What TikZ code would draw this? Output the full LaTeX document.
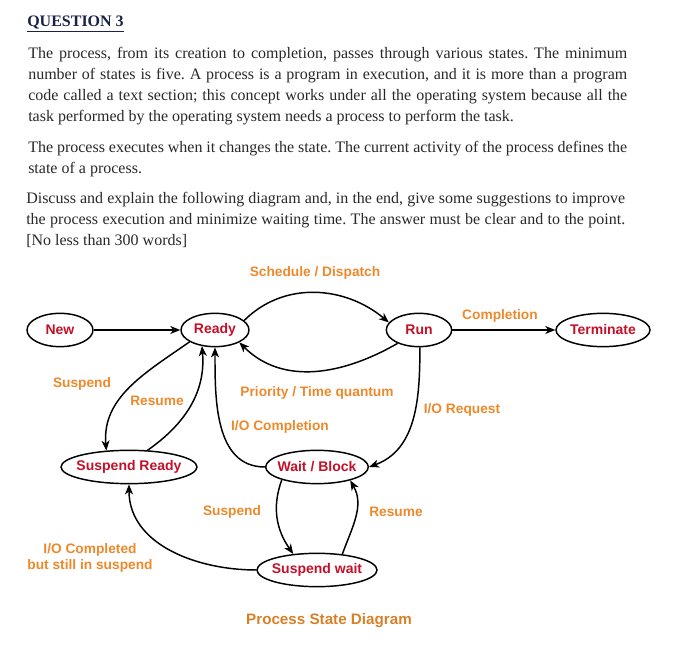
\documentclass[tikz,border=0pt]{standalone}
\usepackage{fontspec}
\setmainfont{Liberation Serif}
\setsansfont{Liberation Sans}
\usetikzlibrary{shapes.geometric,arrows.meta}
\definecolor{navyq}{RGB}{25,35,70}
\definecolor{bodytext}{RGB}{40,40,40}
\definecolor{lblorange}{RGB}{237,137,43}
\definecolor{titleorange}{RGB}{214,128,40}
\definecolor{statered}{RGB}{196,16,40}
\frenchspacing
\hyphenpenalty=10000
\exhyphenpenalty=10000

\begin{document}
\begin{tikzpicture}[x=0.75pt,y=-0.75pt,
  state/.style={ellipse,draw,line width=1.1pt,inner xsep=-12pt,inner ysep=0pt,minimum height=25pt,text=statered,font=\sffamily\bfseries\fontsize{10.5}{12}\selectfont},
  lbl/.style={text=lblorange,font=\sffamily\bfseries\fontsize{10.3}{12.5}\selectfont,align=center},
  flow/.style={-{Stealth[length=7.5pt,width=6pt,inset=2.2pt]},line width=1.1pt},
  para/.style={anchor=base west,inner sep=0pt,text width=449.25pt,align=justify,text=bodytext,font=\fontsize{12}{15.75}\selectfont}]

\useasboundingbox (0,0) rectangle (676,655);

\node[anchor=base west,inner sep=0pt,text=navyq,font=\bfseries\fontsize{12}{14}\selectfont] (qtitle) at (27,27) {\underline{QUESTION 3}};
\node[para] (parA) at (28,58.5) {The process, from its creation to completion, passes through various states. The minimum number of states is five. A process is a program in execution, and it is more than a program code called a text section; this concept works under all the operating system because all the task performed by the operating system needs a process to perform the task.};
\node[para] (parB) at (28,152.5) {The process executes when it changes the state. The current activity of the process defines the state of a process.};
\node[para] (parC) at (26,203.5) {Discuss and explain the following diagram and, in the end, give some suggestions to improve the process execution and minimize waiting time. The answer must be clear and to the point. {[}No less than 300 words]};

\node[state,minimum width=49.5pt] (new) at (60,330) {New};
\node[state,minimum width=51pt] (ready) at (215,330) {Ready};
\node[state,minimum width=49pt] (run) at (419,330) {Run};
\node[state,minimum width=70.5pt] (term) at (603,330) {Terminate};
\node[state,minimum width=102pt] (sready) at (129,467) {Suspend Ready};
\node[state,minimum width=77pt] (wait) at (317,467) {Wait / Block};
\node[state,minimum width=90pt] (swait) at (317,570) {Suspend wait};

\draw[flow] (new) -- (ready);
\draw[flow] (run) -- (term);
\draw[flow] (ready.18) to[out=45,in=140] (run.166);
\draw[flow] (run.-148) to[out=-150,in=-45] (ready.-27);
\draw[flow] (ready.-155) to[out=-145,in=95] (sready.144);
\draw[flow] (sready.42) to[out=35,in=-85] (ready.-129);
\draw[flow] (wait.west) to[out=180,in=-90] (ready.-90);
\draw[flow] (run.-87) to[out=-90,in=20] (wait.east);
\draw[flow] (wait.-160) to[out=-110,in=125] (swait.146);
\draw[flow] (swait.32) to[out=70,in=-60] (wait.-22);
\draw[flow] (swait.west) to[out=180,in=-90] (sready.south);

\node[lbl] (lsched) at (315,273) {Schedule / Dispatch};
\node[lbl] (lcompl) at (500,316) {Completion};
\node[lbl] (lsusp) at (82,384) {Suspend};
\node[lbl] (lres) at (157,401) {Resume};
\node[lbl] (lprio) at (317,393) {Priority / Time quantum};
\node[lbl] (lioreq) at (462,410) {I/O Request};
\node[lbl] (liocompl) at (280,427) {I/O Completion};
\node[lbl] (lsuspw) at (232,512) {Suspend};
\node[lbl] (lresw) at (396,512) {Resume};
\node[lbl] (liodone) at (90,558) {I/O Completed\\but still in suspend};
\node[text=titleorange,font=\sffamily\bfseries\fontsize{11.4}{13}\selectfont] (dtitle) at (329,621) {Process State Diagram};

\end{tikzpicture}
\end{document}
